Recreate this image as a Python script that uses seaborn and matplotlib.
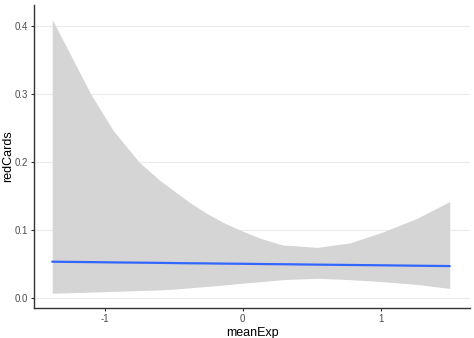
import matplotlib
matplotlib.use("Agg")
import matplotlib.pyplot as plt
import seaborn as sns
import pandas as pd

mean_exp = [-1.38, -1.24, -1.1, -0.94, -0.75, -0.6, -0.5, -0.38, -0.26, -0.14, -0.02, 0.13, 0.29, 0.54, 0.78, 1.02, 1.26, 1.5]
fit = [0.0534, 0.0531, 0.0528, 0.0524, 0.0520, 0.0517, 0.0514, 0.0511, 0.0509, 0.0506, 0.0504, 0.0500, 0.0497, 0.0491, 0.0486, 0.0481, 0.0475, 0.0470]
upper = [0.410, 0.355, 0.300, 0.247, 0.200, 0.173, 0.158, 0.140, 0.1245, 0.111, 0.100, 0.0877, 0.078, 0.0745, 0.0813, 0.0975, 0.117, 0.142]
lower = [0.007, 0.0078, 0.0087, 0.0097, 0.011, 0.012, 0.013, 0.015, 0.017, 0.019, 0.0215, 0.024, 0.027, 0.029, 0.027, 0.024, 0.020, 0.014]

yticks = [0.0, 0.1, 0.2, 0.3, 0.4]
ytick_labels = ["0.0", "0.1", "0.2", "0.3", "0.4"]
xticks = [-1, 0, 1]
xtick_labels = ["-1", "0", "1"]

df = pd.DataFrame({"meanExp": mean_exp, "redCards": fit, "upper": upper, "lower": lower})

sns.set_theme(style="white")
plt.rcParams["font.family"] = ["Liberation Sans", "DejaVu Sans"]

fig = plt.figure(figsize=(4.74, 3.38), dpi=100)
ax = fig.add_axes([0.0717, 0.0888, 0.92, 0.896])

ax.fill_between(df["meanExp"], df["lower"], df["upper"], color="#d5d5d5", linewidth=0, zorder=2)
sns.lineplot(data=df, x="meanExp", y="redCards", ax=ax, color="#3366FF", linewidth=1.6, zorder=3)

ax.set_xlim(-1.512, 1.647)
ax.set_ylim(-0.0147, 0.431)
ax.set_yticks(yticks)
ax.set_yticklabels(ytick_labels)
ax.set_xticks(xticks)
ax.set_xticklabels(xtick_labels)

ax.grid(axis="y", color="#ebebeb", linewidth=0.8, zorder=0)
ax.grid(axis="x", visible=False)
ax.set_axisbelow(True)

for s in ["top", "right"]:
    ax.spines[s].set_visible(False)
for s in ["left", "bottom"]:
    ax.spines[s].set_color("#333333")
    ax.spines[s].set_linewidth(1.0)

ax.tick_params(axis="both", which="major", length=2.5, width=0.8, color="#333333",
               labelsize=7, labelcolor="#4d4d4d", pad=2, left=True, bottom=True)
ax.set_xlabel("meanExp", fontsize=9, color="black", labelpad=2)
ax.set_ylabel("redCards", fontsize=9, color="black")
ax.yaxis.label.set_va("center")
ax.yaxis.set_label_coords(-0.059, 0.5)

fig.savefig("out.png", dpi=100)
